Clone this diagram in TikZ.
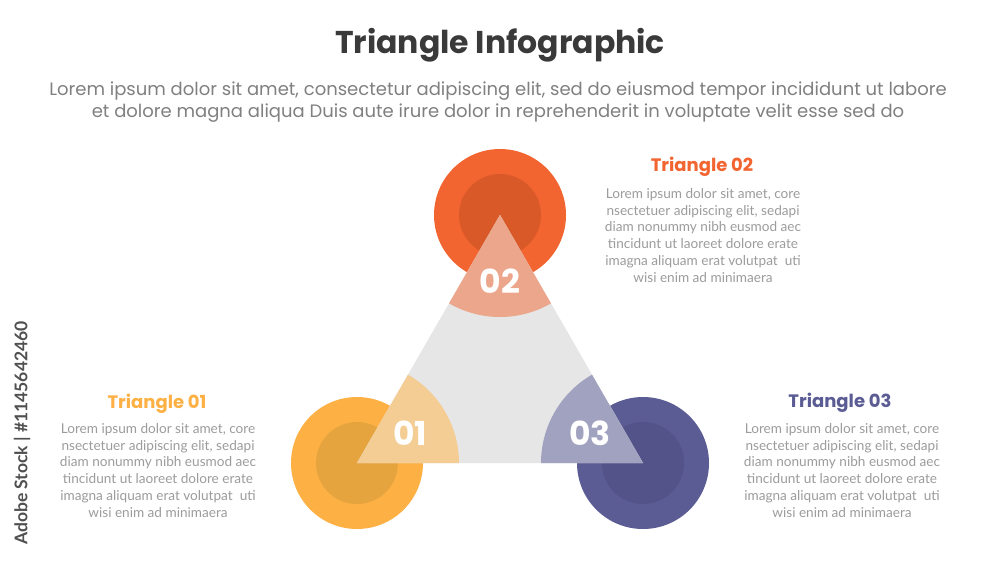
\documentclass[tikz,border=0pt]{standalone}
\usepackage{fontspec}
\setmainfont{Lato}
\newfontfamily\popfont{Poppins}
\newfontfamily\popbold{Poppins}[UprightFont=* Bold]
\usetikzlibrary{calc}
\definecolor{orA}{HTML}{F26430}
\definecolor{orB}{HTML}{D95A28}
\definecolor{orC}{HTML}{EBA68C}
\definecolor{yeA}{HTML}{FDB144}
\definecolor{yeB}{HTML}{E6A43F}
\definecolor{yeC}{HTML}{F4CD95}
\definecolor{nvA}{HTML}{5B5C94}
\definecolor{nvB}{HTML}{53538A}
\definecolor{nvC}{HTML}{A1A1C0}
\definecolor{trigray}{HTML}{E6E6E6}
\definecolor{titlegray}{HTML}{3A3A3A}
\definecolor{subgray}{HTML}{808080}
\definecolor{bodygray}{HTML}{9C9C9C}
\definecolor{stockgray}{HTML}{505050}
\tikzset{
  outerc/.style={circle, minimum size=132pt, inner sep=0pt},
  innerc/.style={circle, minimum size=82pt, inner sep=0pt},
  numtxt/.style={text=white, font=\popbold\fontsize{33}{33}\selectfont, inner sep=0pt},
  headtxt/.style={font=\popbold\fontsize{18}{20}\selectfont, inner sep=0pt},
  bodytxt/.style={text=bodygray, font=\fontsize{13.6}{16.8}\selectfont, align=center, inner sep=0pt},
}
\begin{document}
\begin{tikzpicture}[x=1pt,y=1pt]
\useasboundingbox[fill=white] (0,0) rectangle (1000,-563);
% vertices
\coordinate (A) at (500,-215);
\coordinate (B) at (357,-463);
\coordinate (C) at (643,-463);
% circles
\node[outerc, fill=orA] (c2) at (A) {};
\node[innerc, fill=orB] (i2) at (A) {};
\node[outerc, fill=yeA] (c1) at (B) {};
\node[innerc, fill=yeB] (i1) at (B) {};
\node[outerc, fill=nvA] (c3) at (C) {};
\node[innerc, fill=nvB] (i3) at (C) {};
% triangle
\fill[trigray] (A) -- (B) -- (C) -- cycle;
% sectors
\fill[orC] (A) -- ++(240:102) arc[start angle=240, end angle=300, radius=102] -- cycle;
\fill[yeC] (B) -- ++(0:102) arc[start angle=0, end angle=60, radius=102] -- cycle;
\fill[nvC] (C) -- ++(120:102) arc[start angle=120, end angle=180, radius=102] -- cycle;
% numbers
\node[numtxt] (n2) at (500,-281) {02};
\node[numtxt] (n1) at (410,-433) {01};
\node[numtxt] (n3) at (590,-433) {03};
% title
\node[text=titlegray, font=\popbold\fontsize{31.5}{34}\selectfont, inner sep=0pt] (title) at (500,-45) {Triangle Infographic};
\node[text=subgray, font=\popfont\fontsize{18}{22}\selectfont, align=center, inner sep=0pt] (sub) at (498,-102) {Lorem ipsum dolor sit amet, consectetur adipiscing elit, sed do eiusmod tempor incididunt ut labore\\et dolore magna aliqua Duis aute irure dolor in reprehenderit in voluptate velit esse sed do};
% text blocks
\node[headtxt, text=orA] (h2) at (702,-167) {Triangle 02};
\node[bodytxt, anchor=north] (b2) at (703,-188) {Lorem ipsum dolor sit amet, core\\nsectetuer adipiscing elit, sedapi\\diam nonummy nibh eusmod aec\\tincidunt ut laoreet dolore erate\\imagna aliquam erat volutpat\ \ uti\\wisi enim ad minimaera};
\node[headtxt, text=yeA] (h1) at (157,-404) {Triangle 01};
\node[bodytxt, anchor=north] (b1) at (158,-423) {Lorem ipsum dolor sit amet, core\\nsectetuer adipiscing elit, sedapi\\diam nonummy nibh eusmod aec\\tincidunt ut laoreet dolore erate\\imagna aliquam erat volutpat\ \ uti\\wisi enim ad minimaera};
\node[headtxt, text=nvA] (h3) at (840,-403) {Triangle 03};
\node[bodytxt, anchor=north] (b3) at (842,-423) {Lorem ipsum dolor sit amet, core\\nsectetuer adipiscing elit, sedapi\\diam nonummy nibh eusmod aec\\tincidunt ut laoreet dolore erate\\imagna aliquam erat volutpat\ \ uti\\wisi enim ad minimaera};
% vertical stock label
\node[rotate=90, text=stockgray, font=\bfseries\fontsize{17.5}{17.5}\selectfont, inner sep=0pt] (stock) at (22,-433) {Adobe Stock | \#1145642460};
\end{tikzpicture}
\end{document}
